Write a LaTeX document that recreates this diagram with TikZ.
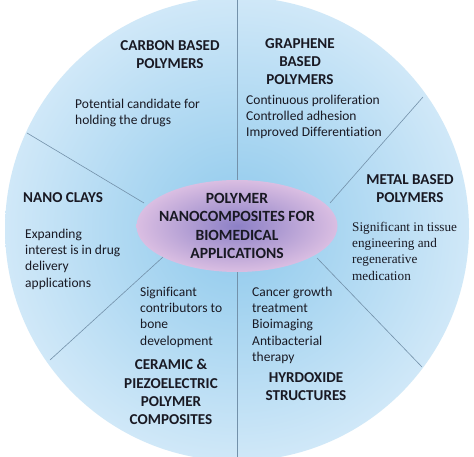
\documentclass[tikz,border=0pt]{standalone}
\usepackage{fontspec}
\setmainfont[Ligatures=NoCommon]{Carlito}
\newfontfamily\serifbody{Liberation Serif}
\usetikzlibrary{shapes.geometric}
\definecolor{discin}{RGB}{142,201,236}
\definecolor{discout}{RGB}{208,232,248}
\definecolor{hubin}{RGB}{140,128,198}
\definecolor{hubout}{RGB}{218,190,226}
\definecolor{divline}{RGB}{115,145,170}
\definecolor{ink}{RGB}{25,25,35}
\tikzset{
  title/.style={font=\bfseries\fontsize{15.1}{18.2}\selectfont, text=ink, align=center, inner sep=0pt},
  hubtext/.style={font=\bfseries\fontsize{15.6}{18.5}\selectfont, text=ink, align=center, inner sep=0pt},
  hubshape/.style={ellipse, minimum width=201, minimum height=92, inner sep=0pt, inner color=hubin, outer color=hubout},
  body/.style={font=\fontsize{13.5}{16.2}\selectfont, text=ink, align=left, anchor=north west, inner sep=0pt},
  sbody/.style={font=\serifbody\fontsize{13.2}{16.2}\selectfont, text=ink, align=left, anchor=north west, inner sep=0pt},
  divider/.style={draw=divline, line width=0.6pt},
}
\begin{document}
\begin{tikzpicture}[x=1pt,y=-1pt]
\clip (0,0) rectangle (474,457);
\fill[white] (0,0) rectangle (474,457);
% disc
\shade[inner color=discin, outer color=discout] (237,229) circle (232);
% hub
\node[hubshape] (hub) at (237,226) {};
\node[hubtext] (hubT) at (hub.center) {POLYMER\\NANOCOMPOSITES FOR\\BIOMEDICAL\\APPLICATIONS};
% rim coordinates
\coordinate (rimT) at (237,-3);
\coordinate (rimB) at (237,461);
\coordinate (rimUL) at (27,133);
\coordinate (hubUL) at (144,203);
\coordinate (rimUR) at (423,97);
\coordinate (hubUR) at (330,203);
\coordinate (hubLR) at (317,258);
\coordinate (rimLR) at (422,367);
\coordinate (hubLL) at (163,257);
\coordinate (rimLL) at (50,360);
\draw[divider] (rimT) -- (hub.north);
\draw[divider] (hub.south) -- (rimB);
\draw[divider] (rimUL) -- (hubUL);
\draw[divider] (rimUR) -- (hubUR);
\draw[divider] (hubLR) -- (rimLR);
\draw[divider] (hubLL) -- (rimLL);
% titles
\node[title] (carbon) at (170,55) {CARBON BASED\\POLYMERS};
\node[title] (graphene) at (300,61.5) {GRAPHENE\\BASED\\POLYMERS};
\node[title] (metal) at (410,189) {METAL BASED\\POLYMERS};
\node[title, anchor=west] (nano) at (23,198) {NANO CLAYS};
\node[title] (ceramic) at (171,392) {CERAMIC \&\\PIEZOELECTRIC\\POLYMER\\COMPOSITES};
\node[title] (hydro) at (306,387) {HYRDOXIDE\\STRUCTURES};
% bodies
\node[body] (carbonT) at (75,99) {Potential candidate for\\holding the drugs};
\node[body] (grapheneT) at (246,95) {Continuous proliferation\\Controlled adhesion\\Improved Differentiation};
\node[sbody] (metalT) at (352,222) {Significant in tissue\\engineering and\\regenerative\\medication};
\node[body] (nanoT) at (25,229) {Expanding\\interest is in drug\\delivery\\applications};
\node[body] (ceramicT) at (140,287) {Significant\\contributors to\\bone\\development};
\node[body] (hydroT) at (252,287) {Cancer growth\\treatment\\Bioimaging\\Antibacterial\\therapy};
\end{tikzpicture}
\end{document}
